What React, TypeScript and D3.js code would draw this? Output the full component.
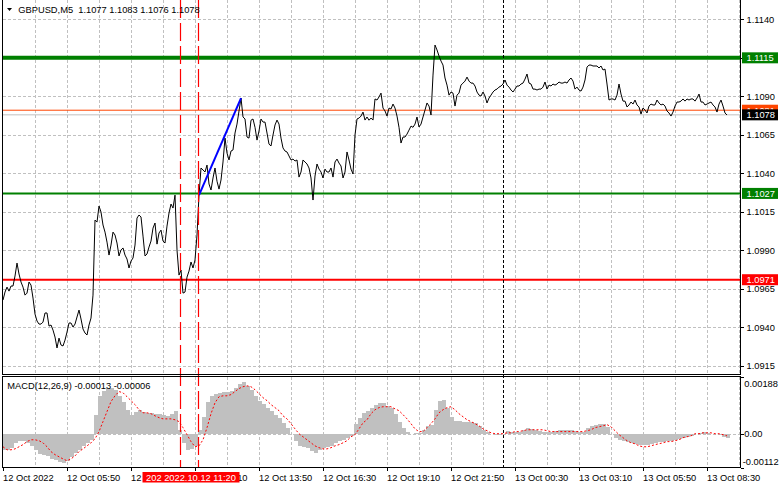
import React from "react";
import * as d3 from "d3";

// ---------- data ----------
const symbolName = "GBPUSD,M5";
const headerQuotes = ["1.1077", "1.1083", "1.1076", "1.1078"];
const timeLabels = [
  "12 Oct 2022", "12 Oct 05:50", "12 Oct 08:30", "12 Oct 11:10", "12 Oct 13:50", "12 Oct 16:30",
  "12 Oct 19:10", "12 Oct 21:50", "13 Oct 00:30", "13 Oct 03:10", "13 Oct 05:50", "13 Oct 08:30",
];
const barsPerLabel = 32;
const barsPerGrid = 16;
const priceTicks = [1.0915, 1.094, 1.0965, 1.099, 1.1015, 1.104, 1.1065, 1.109, 1.1115, 1.114];
const macdMin = -0.00112;
const macdMax = 0.00188;

// M5 close prices, one per bar
const closes = [
  1.09578, 1.0963, 1.09662, 1.09636, 1.09669, 1.09669, 1.09734, 1.09818, 1.09747, 1.09695,
  1.09662, 1.0961, 1.09623, 1.09695, 1.09675, 1.09591, 1.09487, 1.09442, 1.09422, 1.09422,
  1.09435, 1.09494, 1.09494, 1.09409, 1.09416, 1.09383, 1.09338, 1.09267, 1.09331, 1.09286,
  1.0928, 1.09318, 1.0937, 1.09429, 1.09429, 1.09403, 1.09422, 1.09468, 1.09513, 1.09455,
  1.0939, 1.09364, 1.09351, 1.09416, 1.09461, 1.0961, 1.10097, 1.10084, 1.10188, 1.10149,
  1.10065, 1.10019, 1.09954, 1.0987, 1.09935, 1.10019, 1.1, 1.09948, 1.09864, 1.09903,
  1.09916, 1.0987, 1.09844, 1.09786, 1.09831, 1.09851, 1.09935, 1.1011, 1.1013, 1.10117,
  1.09993, 1.09864, 1.09877, 1.09922, 1.09961, 1.10045, 1.10078, 1.09941, 1.10013, 1.10032,
  1.09961, 1.09948, 1.10058, 1.10143, 1.10201, 1.10175, 1.10259, 1.09903, 1.0974, 1.09773,
  1.09623, 1.0963, 1.09727, 1.09766, 1.09825, 1.09786, 1.09838, 1.1, 1.10259,
  1.10435, 1.10422, 1.10409, 1.10454, 1.10331, 1.10292, 1.1037, 1.10435, 1.10349, 1.10298,
  1.10357, 1.10474, 1.10629, 1.10532, 1.10487, 1.10545, 1.10552, 1.10662, 1.1072, 1.10805,
  1.10889, 1.10766, 1.10753, 1.10636, 1.10629, 1.10745, 1.10753, 1.10699, 1.10616, 1.10675,
  1.10753, 1.10733, 1.10733, 1.10662, 1.1059, 1.10578, 1.10649, 1.10714, 1.10746, 1.1072,
  1.10629, 1.10565, 1.10545, 1.10539, 1.10513, 1.10487, 1.10493, 1.1048, 1.10487, 1.10376,
  1.10409, 1.10487, 1.10474, 1.10461, 1.10435, 1.1037, 1.10227, 1.10383, 1.10461, 1.10428,
  1.10409, 1.1037, 1.10428, 1.10409, 1.10409, 1.10435, 1.10376, 1.10474, 1.10493, 1.10467,
  1.10448, 1.1037, 1.10409, 1.10539, 1.10487, 1.10428, 1.10396, 1.10649, 1.10753, 1.10759,
  1.10772, 1.10798, 1.10746, 1.10766, 1.10745, 1.10759, 1.10746, 1.10883, 1.10876, 1.10896,
  1.10921, 1.10824, 1.10805, 1.10772, 1.10824, 1.10818, 1.1085, 1.10824, 1.10772, 1.10699,
  1.10597, 1.10636, 1.10636, 1.10655, 1.10681, 1.10707, 1.10699, 1.1072, 1.10766, 1.10701,
  1.1072, 1.10766, 1.10811, 1.10857, 1.10837, 1.10779, 1.11038, 1.11233, 1.11201, 1.11162,
  1.11129, 1.11103, 1.11019, 1.10973, 1.10908, 1.10928, 1.10921, 1.10837, 1.10908, 1.10921,
  1.10973, 1.10986, 1.10999, 1.11025, 1.10999, 1.10986, 1.10986, 1.10967, 1.10928, 1.10908,
  1.10902, 1.10928, 1.10902, 1.10857, 1.10889, 1.10908, 1.10928, 1.10941, 1.10947, 1.1096,
  1.10967, 1.1098, 1.11006, 1.10973, 1.1096, 1.10941, 1.10928, 1.10947, 1.10967, 1.10967,
  1.1098, 1.10986, 1.11012, 1.11045, 1.10986, 1.1098, 1.10947, 1.10947, 1.10941, 1.10947,
  1.10947, 1.1096, 1.10993, 1.10947, 1.10973, 1.10967, 1.1098, 1.10973, 1.1098, 1.10993,
  1.10986, 1.10986, 1.10993, 1.10986, 1.11006, 1.11019, 1.10999, 1.10947, 1.1096, 1.10941,
  1.10934, 1.1096, 1.11006, 1.1109, 1.11103, 1.11103, 1.11097, 1.11097, 1.11097, 1.11084,
  1.11097, 1.11071, 1.11077, 1.1098, 1.10876, 1.10883, 1.10883, 1.10876, 1.10908, 1.1098,
  1.10915, 1.10869, 1.10869, 1.10831, 1.10844, 1.10863, 1.1085, 1.10876, 1.10844, 1.10831,
  1.10785, 1.10824, 1.10811, 1.10792, 1.10837, 1.1085, 1.10844, 1.10844, 1.10876, 1.10857,
  1.10844, 1.1085, 1.10837, 1.10805, 1.10792, 1.10772, 1.10798, 1.10837, 1.10863, 1.10863,
  1.10869, 1.10883, 1.10869, 1.10883, 1.10876, 1.10883, 1.10883, 1.10869, 1.10889, 1.10915,
  1.10863, 1.10863, 1.10844, 1.1085, 1.10857, 1.10863, 1.10844, 1.10831, 1.10798, 1.1085,
  1.10876, 1.10837, 1.10792, 1.10779,
];

// MACD main (histogram) and signal, one sample every 2 bars
const macdMain = [
  -0.00052, -0.00052, -0.00045, -0.00029, -0.00022, -0.00022, -0.00029, -0.00039, -0.00052, -0.00065,
  -0.00068, -0.00072, -0.00082, -0.00085, -0.00091, -0.00095, -0.00088, -0.00075, -0.00062, -0.00052,
  -0.00039, -0.00029, -0.00019, 0.00064, 0.00126, 0.00143, 0.00153, 0.00153, 0.00146, 0.00126,
  0.00107, 0.0008, 0.00064, 0.00074, 0.0008, 0.00074, 0.0007, 0.0007, 0.00067, 0.00067,
  0.00064, 0.0006, 0.00067, 0.00077, 0.00014, -0.00029, -0.00052, -0.00049, -0.00039, 0.00014,
  0.00057, 0.00107, 0.00126, 0.00133, 0.00136, 0.0014, 0.0014, 0.00143, 0.00153, 0.00166,
  0.00173, 0.00159, 0.00146, 0.00126, 0.0011, 0.001, 0.00087, 0.00077, 0.00064, 0.00054,
  0.00037, 0.00021, 0.00001, -0.00022, -0.00039, -0.00042, -0.00045, -0.00055, -0.00062, -0.00052,
  -0.00045, -0.00042, -0.00039, -0.00029, -0.00022, -0.00019, -0.00012, -0.00006, 0.00034, 0.00054,
  0.0007, 0.00077, 0.00087, 0.00097, 0.00103, 0.00103, 0.00093, 0.00087, 0.00067, 0.00041,
  0.00021, 0.00008, 0.00001, 0.00004, 0.00004, 0.00014, 0.00027, 0.00031, 0.0008, 0.0011,
  0.00113, 0.00087, 0.00057, 0.00044, 0.00044, 0.00041, 0.00041, 0.00041, 0.00037, 0.00027,
  0.00014, 0.00008, 0.00001, -0.00002, -0.00002, 0.00001, 0.00011, 0.00008, 0.00008, 0.00008,
  0.00014, 0.00021, 0.00017, 0.00014, 0.00011, 0.00008, 0.00008, 0.00008, 0.00011, 0.00014,
  0.00014, 0.00014, 0.00014, 0.00011, 0.00008, 0.00008, 0.00021, 0.00027, 0.00031, 0.00034,
  0.00034, 0.00024, 0.00001, -0.00012, -0.00019, -0.00022, -0.00025, -0.00029, -0.00032, -0.00035,
  -0.00035, -0.00035, -0.00032, -0.00029, -0.00025, -0.00025, -0.00022, -0.00022, -0.00019, -0.00016,
  -0.00012, -0.00009, -0.00006, 0.00001, 0.00004, 0.00008, 0.00004, 0.00001, 0.00001, -0.00002,
  -0.00009, -0.00013,
];
const macdSignal = [
  -0.00042, -0.00052, -0.00052, -0.00049, -0.00042, -0.00035, -0.00025, -0.00019, -0.00019, -0.00022,
  -0.00029, -0.00042, -0.00058, -0.00068, -0.00075, -0.00082, -0.00088, -0.00082, -0.00072, -0.00058,
  -0.00049, -0.00039, -0.00029, -0.00016, 0.00008, 0.00041, 0.00074, 0.00107, 0.00126, 0.0014,
  0.00136, 0.00123, 0.0011, 0.00097, 0.0008, 0.0007, 0.0007, 0.00067, 0.0006, 0.00054,
  0.0005, 0.0005, 0.0005, 0.00047, 0.00041, 0.00021, -0.00002, -0.00025, -0.00042, -0.00039,
  -0.00019, 0.00021, 0.00067, 0.00103, 0.00123, 0.00126, 0.00126, 0.0013, 0.0014, 0.0015,
  0.00156, 0.00159, 0.00156, 0.00146, 0.00133, 0.0012, 0.0011, 0.00097, 0.00087, 0.00077,
  0.0006, 0.0005, 0.00034, 0.00017, 0.00001, -0.00009, -0.00019, -0.00029, -0.00039, -0.00045,
  -0.00049, -0.00049, -0.00045, -0.00039, -0.00035, -0.00029, -0.00022, -0.00009, -0.00002, 0.00017,
  0.00037, 0.00047, 0.00067, 0.0008, 0.00087, 0.0009, 0.0009, 0.0009, 0.00083, 0.00077,
  0.00064, 0.0005, 0.00034, 0.00017, 0.00008, 0.00008, 0.00021, 0.00034, 0.0005, 0.0007,
  0.0008, 0.00087, 0.0009, 0.0008, 0.00067, 0.00057, 0.00047, 0.00041, 0.00034, 0.00027,
  0.00017, 0.00011, 0.00004, 0.00001, 0.00001, 0.00001, 0.00004, 0.00004, 0.00008, 0.00008,
  0.00011, 0.00014, 0.00014, 0.00014, 0.00014, 0.00014, 0.00011, 0.00008, 0.00008, 0.00008,
  0.00008, 0.00008, 0.00008, 0.00008, 0.00008, 0.00008, 0.00011, 0.00014, 0.00021, 0.00024,
  0.00027, 0.00031, 0.00024, 0.00011, -0.00002, -0.00012, -0.00022, -0.00029, -0.00032, -0.00039,
  -0.00042, -0.00042, -0.00039, -0.00035, -0.00032, -0.00029, -0.00025, -0.00025, -0.00022, -0.00019,
  -0.00012, -0.00009, -0.00006, 0.00001, 0.00001, 0.00004, 0.00004, 0.00004, 0.00001, 0.00001,
  -0.00002, -0.00006,
];
const macdStep = 2;

// horizontal levels
const resistanceLevel = 1.1115;
const pivotLevel = 1.1027;
const supportLevel = 1.0971;
const openLevel = 1.1081;
const bidLevel = 1.1078;

// trend line (bar, price)
const trendBars = [98, 119];
const trendPrices = [1.10259, 1.10889];

// vertical markers
const markerBars = [89, 98];
const markerLabelBar = 94;
const markerLabel = "202 2022.10.12 11:20";
const sessionBar = 250;

// ---------- chart ----------
const FONT = "'Liberation Sans', Arial, sans-serif";
const FS = 9.3;

export default function App() {
  const W = 781;
  const H = 489;
  const left = 2.5;
  const right = 740.5;
  const mainTop = 0;
  const mainBottom = 374.5;
  const macdTop = 376.5;
  const macdBottom = 467.5;

  const x = d3.scaleLinear().domain([0, 1]).range([3, 5]);
  const y = d3.scaleLinear().domain([1.0915, 1.114]).range([366, 19.3]);
  const ym = d3.scaleLinear().domain([macdMin, macdMax]).range([468, 377]);

  const pricePath = d3
    .line<number>()
    .x((_, i) => x(i))
    .y((d) => y(d))(closes) as string;
  const signalPath = d3
    .line<number>()
    .x((_, k) => x(k * macdStep))
    .y((d) => ym(d))(macdSignal) as string;

  const gridBars: number[] = [];
  for (let b = barsPerGrid; x(b) < right - 1; b += barsPerGrid) gridBars.push(b);

  const boxX = 742;
  const boxW = 36;
  const boxH = 11;

  const levelBox = (price: number, fill: string, key: string) => (
    <g key={key}>
      <rect x={boxX} y={y(price) - boxH / 2} width={boxW} height={boxH} fill={fill} />
      <text x={boxX + 4.5} y={y(price) + 3.4} fill="#fff" fontSize={FS} fontFamily={FONT}>
        {price.toFixed(4)}
      </text>
    </g>
  );

  const lastMain = macdMain[macdMain.length - 1];
  const lastSignal = macdSignal[macdSignal.length - 1];
  const markerLabelW = 97;
  const markerLabelCx = x(markerLabelBar);

  return (
    <svg
      width={W}
      height={H}
      viewBox={`0 0 ${W} ${H}`}
      style={{ position: "fixed", left: 0, top: 0, background: "#fff", display: "block" }}
    >
      <rect x={0} y={0} width={W} height={H} fill="#fff" />
      <defs>
        <clipPath id="mainClip">
          <rect x={left} y={mainTop} width={right - left} height={mainBottom - mainTop} />
        </clipPath>
        <clipPath id="macdClip">
          <rect x={left} y={macdTop} width={right - left} height={macdBottom - macdTop} />
        </clipPath>
      </defs>

      {/* grid: main */}
      <g stroke="#c0c0c0" strokeWidth={1} strokeDasharray="3,2" shapeRendering="crispEdges">
        {priceTicks.map((p) => (
          <line key={"h" + p} x1={left} x2={right} y1={Math.round(y(p)) + 0.5} y2={Math.round(y(p)) + 0.5} />
        ))}
        {gridBars.map((b) => (
          <line key={"v" + b} x1={x(b) + 0.5} x2={x(b) + 0.5} y1={mainTop} y2={mainBottom} />
        ))}
        {gridBars.map((b) => (
          <line key={"mv" + b} x1={x(b) + 0.5} x2={x(b) + 0.5} y1={macdTop} y2={macdBottom} />
        ))}
        <line x1={left} x2={right} y1={Math.round(ym(0)) + 0.5} y2={Math.round(ym(0)) + 0.5} />
      </g>

      {/* MACD histogram */}
      <g clipPath="url(#macdClip)" fill="#c0c0c0" shapeRendering="crispEdges">
        {macdMain.map((v, k) => {
          const x0 = x(k * macdStep) - 1;
          const w = x((k + 1) * macdStep) - x(k * macdStep);
          const y0 = Math.min(ym(0), ym(v));
          const h = Math.abs(ym(v) - ym(0));
          return <rect key={k} x={x0} y={y0} width={w} height={Math.max(h, 0.5)} />;
        })}
      </g>
      <path d={signalPath} fill="none" stroke="#ff0000" strokeWidth={1} strokeDasharray="2,2" clipPath="url(#macdClip)" />

      {/* main panel levels */}
      <g clipPath="url(#mainClip)">
        <line x1={left} x2={right} y1={y(bidLevel)} y2={y(bidLevel)} stroke="#c0c0c0" strokeWidth={1} />
        <line x1={left} x2={right} y1={y(openLevel)} y2={y(openLevel)} stroke="#ff4500" strokeWidth={1} />
        <line x1={left} x2={right} y1={y(resistanceLevel)} y2={y(resistanceLevel)} stroke="#008000" strokeWidth={4} />
        <line x1={left} x2={right} y1={y(pivotLevel)} y2={y(pivotLevel)} stroke="#008000" strokeWidth={2} />
        <line x1={left} x2={right} y1={y(supportLevel)} y2={y(supportLevel)} stroke="#ff0000" strokeWidth={2} />
        <path d={pricePath} fill="none" stroke="#000" strokeWidth={1} />
        <line
          x1={x(trendBars[0])}
          y1={y(trendPrices[0])}
          x2={x(trendBars[1])}
          y2={y(trendPrices[1])}
          stroke="#0000ff"
          strokeWidth={2}
        />
      </g>

      {/* vertical markers */}
      {markerBars.map((b) => (
        <line key={"m" + b} x1={x(b) - 0.5} x2={x(b) - 0.5} y1={mainTop} y2={macdBottom} stroke="#ff0000" strokeWidth={1.2} strokeDasharray="18,5" />
      ))}
      <line x1={x(sessionBar) + 0.5} x2={x(sessionBar) + 0.5} y1={mainTop} y2={macdBottom} stroke="#000" strokeWidth={1} strokeDasharray="3,2" />

      {/* frames */}
      <g fill="none" stroke="#000" strokeWidth={1} shapeRendering="crispEdges">
        <polyline points={`${left},${mainTop} ${left},${mainBottom} ${right},${mainBottom} ${right},${mainTop}`} />
        <rect x={left} y={macdTop} width={right - left} height={macdBottom - macdTop} />
      </g>

      {/* right axis ticks and labels */}
      <g fontFamily={FONT} fontSize={FS} fill="#000">
        {priceTicks.map((p) => (
          <g key={"t" + p}>
            <line x1={right} x2={right + 3} y1={Math.round(y(p)) + 0.5} y2={Math.round(y(p)) + 0.5} stroke="#000" shapeRendering="crispEdges" />
            <text x={746.5} y={y(p) + 3.4}>{p.toFixed(4)}</text>
          </g>
        ))}
        {[macdMax, 0, macdMin].map((v) => (
          <line key={"mt" + v} x1={right} x2={right + 3} y1={Math.round(ym(v)) + 0.5} y2={Math.round(ym(v)) + 0.5} stroke="#000" shapeRendering="crispEdges" />
        ))}
        <text x={744.3} y={ym(macdMax) + 9.5}>{macdMax.toFixed(5)}</text>
        <text x={744.3} y={ym(0) + 3.4}>{(0).toFixed(2)}</text>
        <text x={742.7} y={ym(macdMin) - 2.8}>{macdMin.toFixed(5)}</text>
      </g>

      {/* level price boxes */}
      {levelBox(resistanceLevel, "#008000", "r")}
      {levelBox(pivotLevel, "#008000", "p")}
      {levelBox(supportLevel, "#ff0000", "s")}
      {levelBox(openLevel, "#ff4500", "o")}
      {levelBox(bidLevel, "#000000", "b")}

      {/* time axis */}
      <g fontFamily={FONT} fontSize={FS} fill="#000">
        {timeLabels.map((t, j) => {
          const bx = x(j * barsPerLabel);
          return (
            <g key={t}>
              <line x1={bx + 0.5} x2={bx + 0.5} y1={macdBottom} y2={macdBottom + 3} stroke="#000" shapeRendering="crispEdges" />
              <text x={bx} y={481}>{t}</text>
            </g>
          );
        })}
      </g>
      <rect x={markerLabelCx - markerLabelW / 2} y={472} width={markerLabelW} height={10.5} fill="#ff0000" />
      <text x={markerLabelCx} y={481} fill="#fff" fontFamily={FONT} fontSize={FS} textAnchor="middle">
        {markerLabel}
      </text>

      {/* header */}
      <path d="M7,8 L12,8 L9.5,11 Z" fill="#000" />
      <text x={18.3} y={13.3} fontFamily={FONT} fontSize={FS} fill="#000" style={{ whiteSpace: "pre" }}>
        {`${symbolName}  ${headerQuotes.join(" ")}`}
      </text>
      <text x={7.3} y={389} fontFamily={FONT} fontSize={FS} fill="#000">
        {`MACD(12,26,9) ${lastMain.toFixed(5)} ${lastSignal.toFixed(5)}`}
      </text>
    </svg>
  );
}
